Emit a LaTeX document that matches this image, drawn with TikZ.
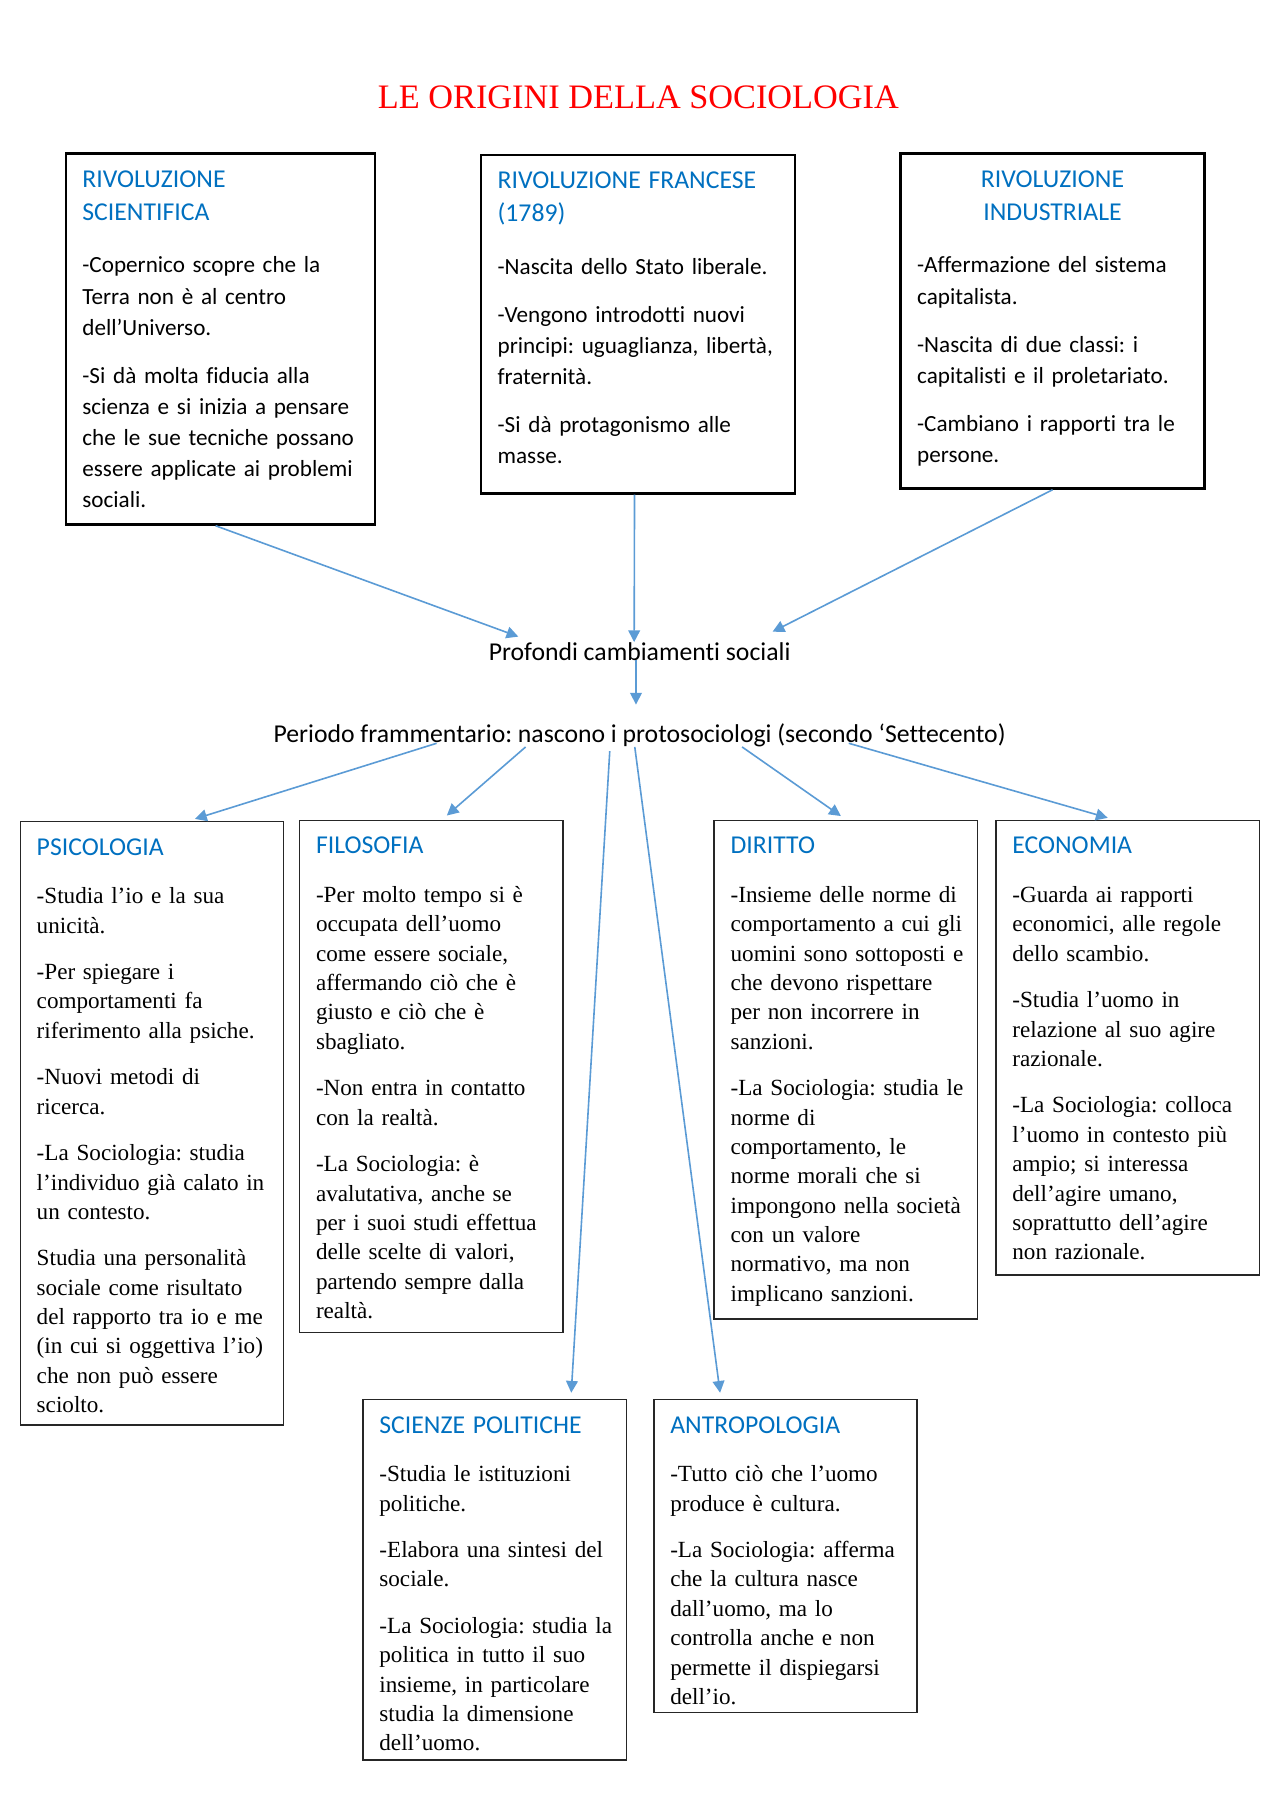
\documentclass[tikz,border=0pt]{standalone}
\usepackage{fontspec}
\setmainfont[Ligatures=NoCommon]{Liberation Serif}
\newfontfamily\calibri[Ligatures=NoCommon]{Carlito}
\usepackage{tikz}
\usetikzlibrary{arrows.meta, positioning}
\frenchspacing

\definecolor{titolo}{RGB}{255,0,0}
\definecolor{intesta}{RGB}{0,112,192}
\definecolor{blufreccia}{RGB}{91,155,213}

\newcommand{\intesta}[1]{{\calibri\fontsize{12}{14.5}\selectfont\color{intesta}#1}}

\tikzset{
    riquadro/.style={draw, line width=1.2pt, anchor=north west, inner xsep=0.1cm, inner ysep=0.25cm,
        text height=0.3cm, align=left, font=\calibri\fontsize{10.8}{14.5}\selectfont,
        execute at begin node={\leftskip=0.17cm}},
    materia/.style={draw, draw=black!85, line width=0.7pt, anchor=north west, inner xsep=0.1cm, inner ysep=0.25cm,
        text height=0.3cm, text width=4.12cm, align=left, font=\fontsize{10.8}{13.7}\selectfont,
        execute at begin node={\leftskip=0.17cm}},
    testo/.style={anchor=base, inner sep=0pt, font=\calibri\fontsize{12}{14.5}\selectfont},
    link/.style={draw=blufreccia, line width=0.75pt, -{Triangle[length=5.5pt,width=5.5pt]}}
}

\begin{document}
\begin{tikzpicture}
    \useasboundingbox (0,0) rectangle (21,-29.7);

    \node[anchor=base, inner sep=0pt, font=\fontsize{16}{18}\selectfont, text=titolo] (tit) at (10.47,-1.78) {LE ORIGINI DELLA SOCIOLOGIA};

    % rivoluzioni
    \node[riquadro, text width=4.87cm, text depth=5.28cm] (sci) at (1.06,-2.50) {\intesta{RIVOLUZIONE\\[1pt]SCIENTIFICA}\\[10pt]
        -Copernico scopre che la\\Terra non è al centro\\dell’Universo.\\[8pt]
        -Si dà molta fiducia alla\\scienza e si inizia a pensare\\che le sue tecniche possano\\essere applicate ai problemi\\sociali.};
    \node[riquadro, text width=4.95cm, text depth=4.75cm] (fra) at (7.87,-2.52) {\intesta{RIVOLUZIONE FRANCESE\\[1pt](1789)}\\[10pt]
        -Nascita dello Stato liberale.\\[8pt]
        -Vengono introdotti nuovi\\principi: uguaglianza, libertà,\\fraternità.\\[8pt]
        -Si dà protagonismo alle\\masse.};
    \node[riquadro, text width=4.78cm, text depth=4.69cm] (ind) at (14.75,-2.50) {\intesta{\makebox[4.44cm]{RIVOLUZIONE}\\[1pt]\makebox[4.44cm]{INDUSTRIALE}}\\[10pt]
        -Affermazione del sistema\\capitalista.\\[8pt]
        -Nascita di due classi: i\\capitalisti e il proletariato.\\[8pt]
        -Cambiano i rapporti tra le\\persone.};

    \node[testo] (prof) at (10.49,-10.83) {Profondi cambiamenti sociali};
    \node[testo] (peri) at (10.49,-12.17) {Periodo frammentario: nascono i protosociologi (secondo ‘Settecento)};

    % discipline
    \node[materia, text depth=9.10cm] (psi) at (0.32,-13.46) {\intesta{PSICOLOGIA}\\[9pt]
        -Studia l’io e la sua\\unicità.\\[8pt]
        -Per spiegare i\\comportamenti fa\\riferimento alla psiche.\\[8pt]
        -Nuovi metodi di\\ricerca.\\[8pt]
        -La Sociologia: studia\\l’individuo già calato in\\un contesto.\\[8pt]
        Studia una personalità\\sociale come risultato\\del rapporto tra io e me\\(in cui si oggettiva l’io)\\che non può essere\\sciolto.};
    \node[materia, text depth=7.60cm] (fil) at (4.90,-13.44) {\intesta{FILOSOFIA}\\[9pt]
        -Per molto tempo si è\\occupata dell’uomo\\come essere sociale,\\affermando ciò che è\\giusto e ciò che è\\sbagliato.\\[8pt]
        -Non entra in contatto\\con la realtà.\\[8pt]
        -La Sociologia: è\\avalutativa, anche se\\per i suoi studi effettua\\delle scelte di valori,\\partendo sempre dalla\\realtà.};
    \node[materia, text depth=7.38cm] (dir) at (11.70,-13.44) {\intesta{DIRITTO}\\[9pt]
        -Insieme delle norme di\\comportamento a cui gli\\uomini sono sottoposti e\\che devono rispettare\\per non incorrere in\\sanzioni.\\[8pt]
        -La Sociologia: studia le\\norme di\\comportamento, le\\norme morali che si\\impongono nella società\\con un valore\\normativo, ma non\\implicano sanzioni.};
    \node[materia, text depth=6.66cm] (eco) at (16.32,-13.44) {\intesta{ECONOMIA}\\[9pt]
        -Guarda ai rapporti\\economici, alle regole\\dello scambio.\\[8pt]
        -Studia l’uomo in\\relazione al suo agire\\razionale.\\[8pt]
        -La Sociologia: colloca\\l’uomo in contesto più\\ampio; si interessa\\dell’agire umano,\\soprattutto dell’agire\\non razionale.};
    \node[materia, text depth=5.11cm] (pol) at (5.94,-22.94) {\intesta{SCIENZE POLITICHE}\\[9pt]
        -Studia le istituzioni\\politiche.\\[8pt]
        -Elabora una sintesi del\\sociale.\\[8pt]
        -La Sociologia: studia la\\politica in tutto il suo\\insieme, in particolare\\studia la dimensione\\dell’uomo.};
    \node[materia, text depth=4.33cm] (ant) at (10.71,-22.94) {\intesta{ANTROPOLOGIA}\\[9pt]
        -Tutto ciò che l’uomo\\produce è cultura.\\[8pt]
        -La Sociologia: afferma\\che la cultura nasce\\dall’uomo, ma lo\\controlla anche e non\\permette il dispiegarsi\\dell’io.};

    % frecce
    \draw[link] ([xshift=-0.08cm]sci.south) -- ([xshift=-1.99cm,yshift=0.09cm]prof.north);
    \draw[link] ([xshift=-0.06cm]fra.south) -- ([xshift=-0.09cm]prof.north);
    \draw[link] (ind.south) -- ([xshift=2.18cm,yshift=0.17cm]prof.north);
    \draw[link] ([xshift=-0.06cm]prof.base) -- ([xshift=-0.06cm,yshift=0.3cm]peri.north);

    \draw[link, shorten >=0.1cm] ([xshift=-3.33cm,yshift=0.06cm]peri.south) -- ([xshift=0.61cm]psi.north);
    \draw[link, shorten >=0.1cm] ([xshift=-1.87cm]peri.south) -- ([xshift=0.18cm]fil.north);
    \draw[link, shorten >=0.1cm] ([xshift=-0.49cm,yshift=-0.07cm]peri.south) -- ([xshift=1.25cm]pol.north);
    \draw[link, shorten >=0.1cm] ([xshift=-0.08cm]peri.south) -- ([xshift=-1.06cm]ant.north);
    \draw[link, shorten >=0.1cm] ([xshift=1.68cm]peri.south) -- (dir.north);
    \draw[link, shorten >=0.1cm] ([xshift=3.43cm,yshift=0.06cm]peri.south) -- ([xshift=-0.23cm]eco.north);
\end{tikzpicture}
\end{document}
